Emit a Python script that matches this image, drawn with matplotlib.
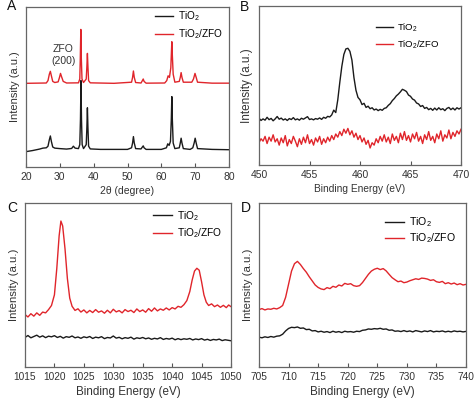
import numpy as np
import matplotlib
matplotlib.use('Agg')
import matplotlib.pyplot as plt

plt.rcParams['font.family'] = ['Liberation Sans', 'DejaVu Sans']
plt.rcParams['mathtext.fontset'] = 'custom'
plt.rcParams['mathtext.rm'] = 'Liberation Sans'

BLACK = '#1a1a1a'
RED = '#e0252b'

# panel A: XRD (2theta, intensity)
xrd_tio2_x = [20, 22, 24, 25, 26, 26.5, 26.9, 27.2, 27.5, 27.9, 28.5, 30, 32, 33.5, 34, 34.5,
              35.5, 35.9, 36.1, 36.25, 36.4, 36.6, 37, 37.8, 38.0, 38.15, 38.3, 38.5, 39, 42,
              46, 50, 51.2, 51.5, 51.75, 52, 52.4, 54, 54.4, 54.65, 54.9, 55.5, 60, 61.5, 61.9,
              62.3, 62.7, 62.95, 63.1, 63.25, 63.5, 64, 65.3, 65.6, 65.85, 66.1, 66.5, 68.5,
              69.3, 69.7, 70, 70.3, 70.7, 75, 80]
xrd_tio2_y = [9.6, 10.3, 11.2, 11.8, 12.0, 13, 17, 19.4, 16, 12.5, 11.8, 11.5, 11.2, 11.6, 13, 11.8,
              11.5, 14, 30, 54, 30, 14, 11.5, 14, 25, 37, 25, 13, 11.3, 11,
              11, 11, 12, 15, 19, 15, 11.5, 11.3, 12.5, 13.2, 12, 11, 11, 12, 14.5,
              13.5, 16, 30, 44, 30, 15, 11.5, 12, 15, 18, 15, 11.5, 11,
              12, 15, 18, 15, 11.5, 11, 10.8]
xrd_zfo_x = [20, 26, 26.5, 26.9, 27.2, 27.5, 27.9, 28.5, 29.5, 29.9, 30.2, 30.5, 31, 32, 35.5,
             35.9, 36.05, 36.2, 36.35, 36.55, 37, 37.8, 38.0, 38.15, 38.3, 38.5, 39, 46, 51.2,
             51.5, 51.75, 52, 52.4, 54, 54.4, 54.65, 54.9, 55.5, 61, 61.6, 62, 62.4, 62.8,
             62.95, 63.1, 63.25, 63.5, 64, 65.3, 65.6, 65.85, 66.1, 66.5, 69, 69.5, 69.95,
             70.3, 70.7, 75, 80]
xrd_zfo_y = [52.3, 52.5, 54, 58, 59.8, 57, 53.5, 52.8, 53.2, 56, 58.5, 56.5, 53.5, 52.5, 52.6,
             55, 68, 86, 68, 55, 52.8, 55, 63, 71, 63, 54, 52.6, 52.3, 53,
             56, 60, 56, 52.8, 52.5, 54, 55, 53.5, 52.4, 52.5, 54, 57, 56, 62,
             70, 78.3, 70, 58, 53, 53.5, 56, 59, 56, 53, 53, 55, 58.5,
             56, 53, 52.4, 52.4]

# panel B: Ti 2p XPS, 450-470 eV
ti_tio2 = [29.5, 28.0, 29.0, 28.2, 30.0, 28.5, 29.3, 27.8, 29.0, 30.5,
           28.8, 29.5, 28.3, 29.0, 28.0, 29.2, 28.6, 29.8, 28.4, 29.0,
           28.2, 29.4, 28.8, 29.6, 30.4, 28.6, 29.0, 28.4, 29.2, 28.8,
           29.6, 28.7, 30.0, 29.4, 30.6, 30.2, 31.5, 34.5, 33.0, 41.0,
           52.0, 62.0, 69.5, 73.0, 73.4, 71.5, 66.0, 55.0, 47.0, 42.5,
           41.0, 38.0, 38.8, 36.2, 37.0, 35.4, 36.0, 34.6, 35.2, 34.2,
           35.0, 34.4, 35.6, 36.0, 37.5, 38.6, 40.5, 41.8, 43.5, 44.6,
           46.0, 47.6, 47.0, 46.2, 44.0, 43.2, 41.5, 40.8, 39.0, 38.4,
           36.8, 37.4, 35.6, 36.2, 34.8, 35.6, 34.4, 35.8, 34.6, 36.0,
           34.8, 35.4, 34.2, 35.6, 36.2, 34.8, 35.8, 34.6, 36.0, 35.2, 36.0]
ti_zfo = [14.0, 16.5, 15.0, 18.0, 13.5, 17.5, 15.0, 19.0, 14.5, 16.5,
          12.5, 17.0, 14.0, 18.5, 12.0, 16.0, 13.5, 18.0, 15.0, 11.5,
          16.5, 13.0, 17.5, 14.0, 19.0, 13.5, 16.0, 12.5, 17.0, 14.5,
          18.0, 13.0, 16.5, 14.0, 17.5, 15.0, 18.5, 16.0, 19.5, 17.5,
          21.0, 18.5, 22.5, 20.0, 23.0, 19.0, 21.5, 17.5, 20.0, 16.0,
          18.5, 14.5, 17.0, 13.0, 15.5, 10.7, 14.0, 12.5, 16.5, 14.0,
          18.0, 15.0, 19.0, 14.5, 17.5, 13.5, 19.5, 15.5, 18.0, 14.0,
          20.0, 16.0, 21.0, 15.5, 18.5, 14.5, 19.5, 16.5, 20.5, 15.0,
          18.0, 13.5, 19.0, 16.0, 21.0, 15.5, 18.0, 14.0, 19.5, 16.5,
          21.5, 15.0, 19.0, 17.0, 22.0, 16.5, 20.5, 18.0, 21.5, 19.5, 22.5]

# panel C: Zn 2p XPS, 1015-1050 eV
zn_tio2 = [18.0, 19.2, 17.8, 18.6, 19.4, 18.2, 19.0, 17.9, 18.8, 18.4, 19.1,
           18.0, 18.7, 17.6, 18.5, 18.1, 18.9, 17.8, 18.3, 17.5, 18.4,
           17.9, 18.6, 17.4, 18.2, 17.8, 18.5, 17.3, 18.0, 17.7, 18.9,
           17.6, 18.1, 17.2, 17.9, 17.5, 18.2, 17.0, 17.8, 17.4, 18.0,
           17.2, 17.7, 16.9, 17.5, 17.1, 17.9, 16.8, 17.4, 17.0, 17.6,
           16.6, 17.3, 16.7, 17.2, 16.9, 17.4, 16.5, 17.1, 16.7, 17.3,
           16.4, 16.9, 16.2, 16.8, 16.5, 17.0, 16.1, 16.6, 16.3, 16.0]
zn_zfo_x = [1015.0, 1015.5, 1016.0, 1016.5, 1017.0, 1017.5, 1018.0, 1018.5, 1019.0, 1019.5,
            1020.0, 1020.4, 1020.8, 1021.1, 1021.4, 1021.8, 1022.2, 1022.6, 1023.0, 1023.5,
            1024.0, 1024.5, 1025.0, 1025.5, 1026.0, 1026.5, 1027.0, 1027.5, 1028.0, 1028.5,
            1029.0, 1029.5, 1030.0, 1030.5, 1031.0, 1031.5, 1032.0, 1032.5, 1033.0, 1033.5,
            1034.0, 1034.5, 1035.0, 1035.5, 1036.0, 1036.5, 1037.0, 1037.5, 1038.0, 1038.5,
            1039.0, 1039.5, 1040.0, 1040.5, 1041.0, 1041.5, 1042.0, 1042.5, 1043.0, 1043.4,
            1043.8, 1044.2, 1044.6, 1045.0, 1045.4, 1045.8, 1046.2, 1046.7, 1047.2, 1047.7,
            1048.2, 1048.7, 1049.2, 1049.6, 1050.0]
zn_zfo_y = [32.0, 30.5, 32.5, 31.0, 33.0, 31.5, 33.5, 33.0, 35.0, 37.5,
            44.0, 60.0, 80.0, 89.0, 86.0, 72.0, 54.0, 42.0, 37.0, 34.5,
            35.5, 33.5, 34.8, 33.0, 34.5, 33.2, 35.0, 33.4, 34.2, 32.8,
            34.6, 33.0, 35.2, 33.6, 34.4, 33.0, 35.0, 33.8, 34.6, 33.2,
            35.4, 33.8, 34.8, 33.4, 35.6, 34.0, 36.0, 34.2, 35.4, 34.6,
            36.0, 34.8, 36.2, 35.4, 37.0, 36.4, 38.0, 40.5, 46.0, 53.0,
            58.5, 60.2, 59.0, 52.0, 44.0, 39.5, 37.5, 38.5, 36.8, 37.8,
            36.4, 37.6, 36.2, 37.8, 36.8]

# panel D: Fe 2p XPS, 705-740 eV
fe_tio2 = [18.2, 17.8, 18.4, 18.0, 18.6, 18.2, 18.8, 19.0, 20.0, 22.0,
           23.5, 24.2, 24.0, 24.4, 23.6, 23.8, 22.8, 23.0, 22.0, 22.2,
           21.4, 21.8, 21.2, 21.6, 21.0, 21.8, 21.2, 21.6, 21.0, 21.8,
           21.4, 21.6, 21.2, 21.8, 21.6, 22.4, 22.6, 23.2, 23.0, 23.4,
           23.2, 23.6, 23.0, 23.2, 22.4, 22.6, 21.8, 22.0, 21.6, 22.2,
           21.6, 22.0, 21.4, 22.2, 21.8, 21.4, 22.0, 21.6, 22.2, 21.4,
           21.8, 21.6, 22.0, 21.4, 21.8, 21.4, 22.0, 21.6, 21.8, 21.4, 21.7]
fe_zfo = [35.0, 35.6, 34.8, 35.4, 35.2, 35.8, 35.4, 36.2, 37.5, 42.5,
          50.5, 58.5, 63.0, 64.4, 62.5, 60.0, 57.8, 55.0, 52.5, 50.0,
          48.5, 47.6, 47.2, 48.4, 47.8, 49.2, 48.6, 50.0, 49.4, 51.0,
          50.4, 50.8, 49.6, 49.2, 49.6, 51.5, 54.0, 56.5, 58.5, 59.6,
          60.2, 59.4, 60.0, 58.6, 56.5, 54.5, 53.2, 52.0, 52.4, 51.4,
          51.8, 52.6, 53.2, 53.8, 53.4, 54.2, 54.0, 53.6, 52.8, 53.2,
          52.0, 51.6, 52.2, 50.8, 51.4, 50.6, 51.2, 50.2, 50.8, 50.0, 50.4]

lab_tio2 = 'TiO$_\\mathrm{2}$'
lab_zfo = 'TiO$_\\mathrm{2}$/ZFO'

fig = plt.figure(figsize=(4.74, 3.98), dpi=100)
W, H = 474, 398


def make_ax(x0, y0, x1, y1):
    # pixel box -> figure fraction
    return fig.add_axes([x0 / W, 1 - y1 / H, (x1 - x0) / W, (y1 - y0) / H])


def style(ax, xlim, ticks, xlabel, tsize, xlsize, ylsize):
    ax.set_xlim(*xlim)
    ax.set_ylim(0, 100)
    ax.set_xticks(ticks)
    ax.set_yticks([])
    ax.tick_params(axis='x', direction='in', length=3, width=0.8, color='#555555',
                   labelsize=tsize, labelcolor='#333333', pad=3.5)
    for s in ax.spines.values():
        s.set_color('#666666')
        s.set_linewidth(0.9)
    ax.set_xlabel(xlabel, fontsize=xlsize, color='#333333', labelpad=3)
    ax.set_ylabel('Intensity (a.u.)', fontsize=ylsize, color='#333333', labelpad=4)


axA = make_ax(26, 7, 229, 167)
axA.plot(xrd_tio2_x, xrd_tio2_y, color=BLACK, lw=1.0, label=lab_tio2)
axA.plot(xrd_zfo_x, xrd_zfo_y, color=RED, lw=1.0, label=lab_zfo)
style(axA, (20, 80), [20, 30, 40, 50, 60, 70, 80], '2\u03b8 (degree)', 7.5, 7.5, 8.0)
axA.text(31, 70, 'ZFO\n(200)', ha='center', va='center', fontsize=7.5, color='#333333',
         linespacing=1.35)

axB = make_ax(259, 6, 461, 165)
axB.plot(np.linspace(450, 470, len(ti_tio2)), ti_tio2, color=BLACK, lw=1.0, label=lab_tio2)
axB.plot(np.linspace(450, 470, len(ti_zfo)), ti_zfo, color=RED, lw=1.0, label=lab_zfo)
style(axB, (450, 470), [450, 455, 460, 465, 470], 'Binding Energy (eV)', 7.5, 7.3, 8.5)

axC = make_ax(25, 203, 231, 367)
axC.plot(np.linspace(1015, 1050, len(zn_tio2)), zn_tio2, color=BLACK, lw=1.0, label=lab_tio2)
axC.plot(zn_zfo_x, zn_zfo_y, color=RED, lw=1.0, label=lab_zfo)
style(axC, (1015, 1050), [1015, 1020, 1025, 1030, 1035, 1040, 1045, 1050],
      'Binding Energy (eV)', 7.3, 8.4, 8.2)

axD = make_ax(259, 203, 466, 367)
axD.plot(np.linspace(705, 740, len(fe_tio2)), fe_tio2, color=BLACK, lw=1.0, label=lab_tio2)
axD.plot(np.linspace(705, 740, len(fe_zfo)), fe_zfo, color=RED, lw=1.0, label=lab_zfo)
style(axD, (705, 740), [705, 710, 715, 720, 725, 730, 735, 740],
      'Binding Energy (eV)', 7.3, 8.4, 8.2)

# legend anchors (axes fraction) and font sizes
legend_opts = [(axA, (0.970, 0.985), 7.2, 0.45),
               (axB, (0.896, 0.905), 6.8, 0.5),
               (axC, (0.956, 0.965), 7.3, 0.4),
               (axD, (0.952, 0.925), 7.6, 0.2)]
for ax, anchor, fs, sp in legend_opts:
    ax.legend(loc='upper right', bbox_to_anchor=anchor, frameon=False, fontsize=fs,
              handlelength=1.8, handletextpad=0.5, labelspacing=sp, borderpad=0,
              borderaxespad=0)

for lab, (px, py) in zip('ABCD', [(7, 6), (240, 7), (7, 208), (241, 208)]):
    fig.text(px / W, 1 - py / H, lab, fontsize=10, ha='left', va='center', color='#111111')

fig.savefig('out.png', dpi=100)
